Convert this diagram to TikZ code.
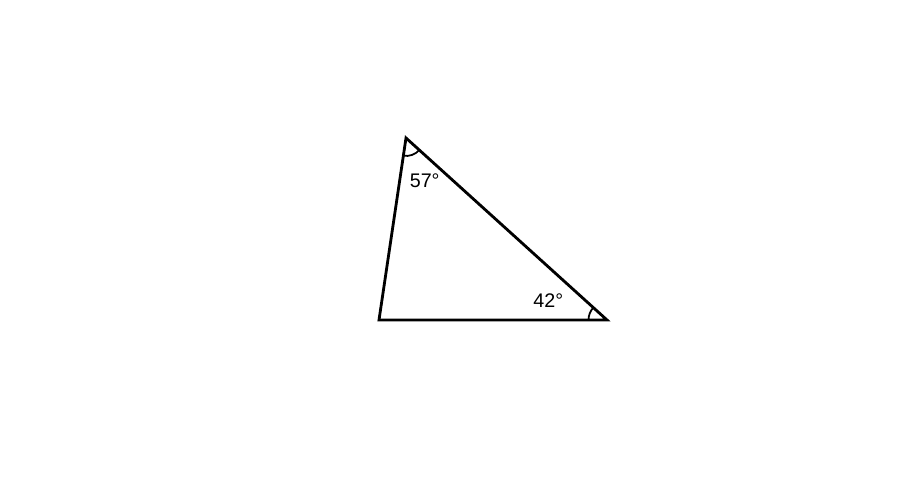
\documentclass[tikz,border=0pt]{standalone}
\usepackage{fontspec}
\setmainfont{Liberation Sans}
\usetikzlibrary{angles}
\begin{document}
\begin{tikzpicture}[x=.02cm, y=.02cm]
\useasboundingbox (0,0) rectangle (917,502);
\coordinate (top) at (406,364);
\coordinate (left) at (379,182);
\coordinate (right) at (607,182);
\draw[line width=1.6pt, line join=miter] (top) -- (left) -- (right) -- cycle;
\pic[draw, line width=1pt, angle radius=0.36cm] {angle = left--top--right};
\pic[draw, line width=1pt, angle radius=0.37cm] {angle = top--right--left};
\node[font=\fontsize{11.2}{13}\selectfont] (atop) at (424.7,321.3) {57°};
\node[font=\fontsize{11.2}{13}\selectfont] (aright) at (548.3,201.3) {42°};

\end{tikzpicture}
\end{document}
